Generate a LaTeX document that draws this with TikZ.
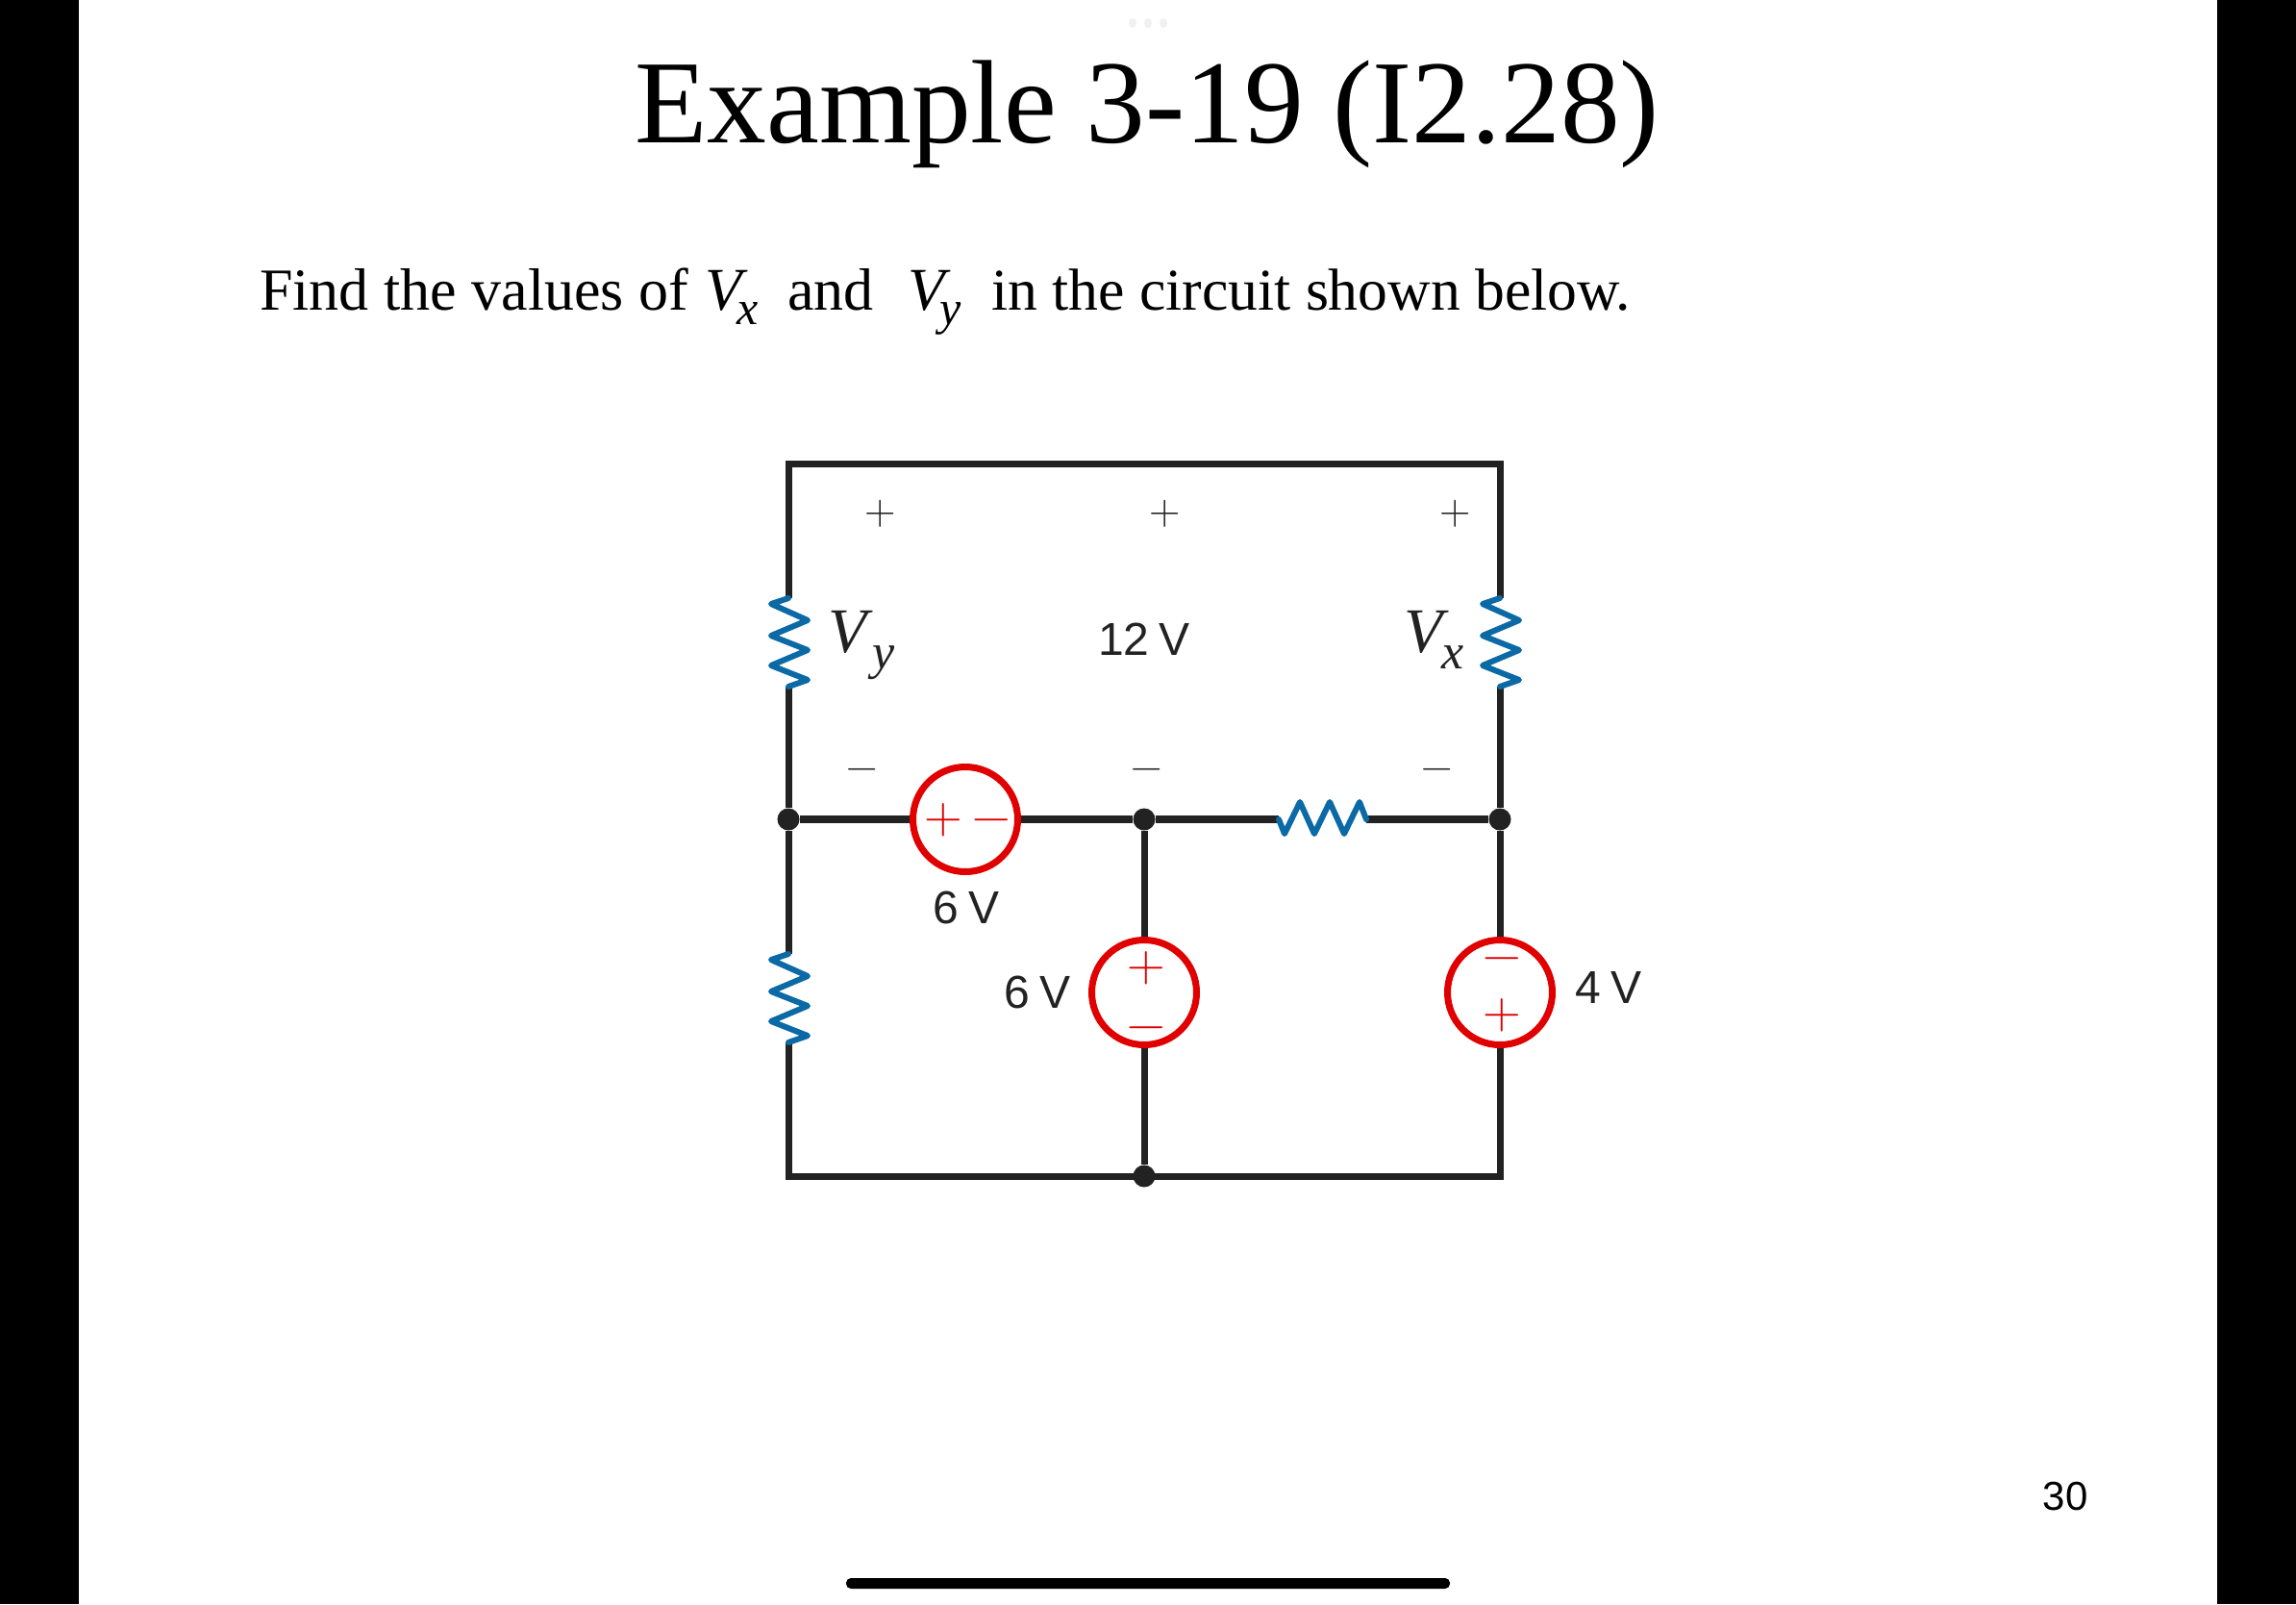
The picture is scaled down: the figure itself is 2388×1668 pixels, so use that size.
\documentclass[tikz,border=0pt]{standalone}
\usepackage{fontspec}
\setmainfont{Liberation Serif}
\setsansfont{Liberation Sans}
\newfontfamily\signfont{Latin Modern Roman}
\newcommand{\minussign}{\vphantom{+}−}
\tikzset{
  wire/.style={draw=wirecol,line width=7pt,line join=miter},
  hwire/.style={draw=wirecol,line width=8.5pt},
  zig/.style={draw=rescol,line width=6pt,line join=round,line cap=round},
  junction/.style={circle,fill=wirecol,inner sep=0pt,minimum size=23pt},
  source/.style={circle,draw=srccol,line width=7pt,fill=white,inner sep=0pt,minimum size=109pt},
  lab/.style={inner sep=0pt,font=\sffamily\fontsize{48}{50}\selectfont,text=textcol},
  sign/.style={inner sep=0pt,font=\signfont\fontsize{45}{50}\selectfont,text=textcol},
  rsign/.style={inner sep=0pt,font=\signfont\fontsize{55}{60}\selectfont,text=srccol},
  body/.style={inner sep=0pt,anchor=base west,font=\fontsize{62}{70}\selectfont},
  sym/.style={inner sep=0pt,anchor=base west,font=\itshape\fontsize{63}{70}\selectfont},
  csym/.style={inner sep=0pt,anchor=base west,text=textcol,font=\itshape\fontsize{66}{70}\selectfont},
}
\definecolor{wirecol}{HTML}{222222}
\definecolor{rescol}{HTML}{0B6AA5}
\definecolor{srccol}{HTML}{E00000}
\definecolor{textcol}{HTML}{222222}
\begin{document}
\begin{tikzpicture}[x=1pt,y=-1pt]
\useasboundingbox (0,0) rectangle (2388,1668);
\fill[white] (0,0) rectangle (2388,1668);
\fill[black] (0,0) rectangle (82,1668);
\fill[black] (2306,0) rectangle (2388,1668);
% window dots and home bar
\foreach \px in {1178,1194,1210} \fill[black!6] (\px,24) ellipse (4pt and 5pt);
\fill[black,rounded corners=5pt] (880,1641) rectangle (1508,1652);
% text
\node[inner sep=0pt,anchor=base,font=\fontsize{123.4}{130}\selectfont] (title) at (1193,148) {Example 3-19 (I2.28)};
\node[body] (t1) at (270,322) {Find the values of};
\node[sym] (t2) at (733,322) {V\kern-5pt\raisebox{-15pt}{\fontsize{50}{60}\selectfont x}};
\node[body] (t4) at (819,322) {and};
\node[sym] (t5) at (944,322) {V\kern-5pt\raisebox{-15pt}{\fontsize{50}{60}\selectfont y}};
\node[body,font=\fontsize{61.6}{70}\selectfont] (t7) at (1031,322) {in the circuit shown below.};
\node[inner sep=0pt,font=\sffamily\fontsize{42}{50}\selectfont] (page) at (2148,1556) {30};
% nodes of the circuit
\node[junction] (jL) at (820,852) {};
\node[junction] (jM) at (1190,852) {};
\node[junction] (jR) at (1560,852) {};
\node[junction] (jB) at (1190,1223) {};
\node[source] (s1) at (1004,852) {};
\node[source] (s2) at (1190,1032) {};
\node[source] (s3) at (1560,1032) {};
\coordinate (tl) at (820,482);
\coordinate (tr) at (1560,482);
\coordinate (bl) at (820,1223);
\coordinate (br) at (1560,1223);
\coordinate (r1a) at (820,622);
\coordinate (r1b) at (820,714);
\coordinate (r2a) at (820,992);
\coordinate (r2b) at (820,1084);
\coordinate (r3a) at (1560,622);
\coordinate (r3b) at (1560,714);
\coordinate (r4a) at (1330,852);
\coordinate (r4b) at (1421,852);
% wires
\draw[wire] (r1a) -- (tl) -- (tr) -- (r3a);
\draw[wire] (r3b) -- (jR);
\draw[wire] (jR) -- (s3);
\draw[wire] (s3) -- (br) -- (bl) -- (r2b);
\draw[wire] (r2a) -- (jL);
\draw[wire] (jL) -- (r1b);
\draw[hwire] (jL) -- (s1);
\draw[hwire] (s1) -- (jM);
\draw[hwire] (jM) -- (r4a);
\draw[hwire] (r4b) -- (jR);
\draw[wire] (jM) -- (s2);
\draw[wire] (s2) -- (jB);
% resistors
\draw[zig] (r1a) -- ++(-18,6) -- ++(38,17) -- ++(-38,16) -- ++(38,15) -- ++(-38,16) -- ++(38,15) -- (r1b);
\draw[zig] (r2a) -- ++(-18,6) -- ++(38,17) -- ++(-38,16) -- ++(38,15) -- ++(-38,16) -- ++(38,15) -- (r2b);
\draw[zig] (r3a) -- ++(-18,6) -- ++(38,17) -- ++(-38,16) -- ++(38,15) -- ++(-38,16) -- ++(38,15) -- (r3b);
\draw[zig] (r4a) -- ++(6,15) -- ++(16,-33) -- ++(15,33) -- ++(16,-33) -- ++(15,33) -- ++(16,-33) -- (r4b);
% signs
\node[rsign] (s1p) at (981,853) {+};
\node[rsign] (s1m) at (1031,853) {\minussign};
\node[rsign] (s2p) at (1192,1007) {+};
\node[rsign] (s2m) at (1192,1069) {\minussign};
\node[rsign] (s3m) at (1562,997) {\minussign};
\node[rsign] (s3p) at (1562,1056) {+};
\node[sign] (p1) at (916,534) {+};
\node[sign] (p2) at (1212,534) {+};
\node[sign] (p3) at (1514,534) {+};
\node[sign] (m1) at (897,800) {\minussign};
\node[sign] (m2) at (1193,800) {\minussign};
\node[sign] (m3) at (1495,800) {\minussign};
% labels
\node[lab] (l12) at (1190,665) {12\hspace{10.5pt}V};
\node[lab] (l6a) at (1005,944) {6\hspace{10.5pt}V};
\node[lab] (l6b) at (1079,1032) {6\hspace{10.5pt}V};
\node[lab] (l4) at (1673,1027) {4\hspace{10.5pt}V};
\node[csym] (vy) at (861,678) {V\kern6pt\raisebox{-17pt}{\fontsize{52}{60}\selectfont y}};
\node[csym] (vx) at (1460,678) {V\kern-1pt\raisebox{-17pt}{\fontsize{52}{60}\selectfont x}};
\end{tikzpicture}
\end{document}
